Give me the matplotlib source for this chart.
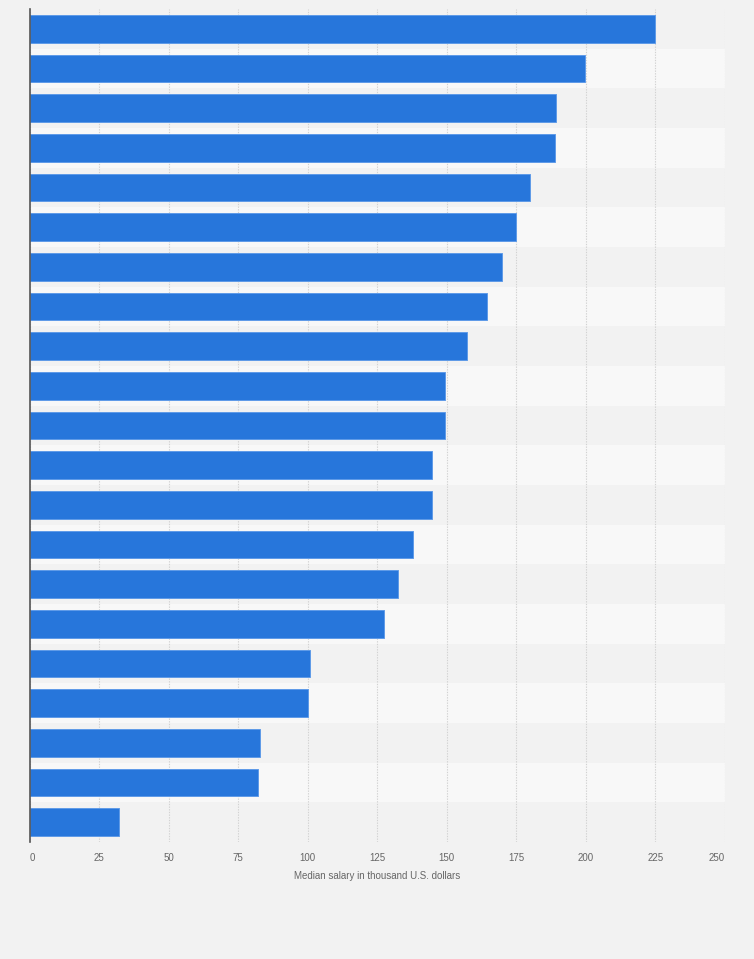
import numpy as np
import matplotlib.pyplot as plt

# median salaries (thousand USD), ranked top to bottom; category names are not shown in the chart
salaries = [225, 199.5, 189.2, 188.8, 179.8, 174.8, 169.7, 164.6, 157.1, 149.5, 149.5,
            144.8, 144.8, 137.7, 132.3, 127.6, 100.7, 100, 82.8, 82.1, 32.2]
ranks = list(range(len(salaries)))
x_ticks = [0, 25, 50, 75, 100, 125, 150, 175, 200, 225, 250]
x_label = 'Median salary in thousand U.S. dollars'

plt.rcParams['font.family'] = ['Liberation Sans', 'DejaVu Sans']

W, H = 754, 959
fig = plt.figure(figsize=(W / 100, H / 100), dpi=100)
fig.patch.set_facecolor('#f2f2f2')
ax = fig.add_axes([29.5 / W, 1 - 842 / H, (725 - 29.5) / W, (842 - 9) / H])
ax.set_facecolor('#f2f2f2')

# alternating row bands
for r in ranks:
    if r % 2 == 1:
        ax.axhspan(r - 0.5, r + 0.5, color='#f8f8f8', zorder=0, lw=0)

ax.barh(ranks, salaries, height=0.7, color='#2776db', edgecolor='#5f9be8',
        linewidth=0.7, zorder=3)

ax.set_xlim(0, 250)
ax.set_ylim(len(salaries) - 0.5, -0.5)
ax.set_xticks(x_ticks, labels=[str(t) for t in x_ticks])
ax.set_yticks([])
ax.grid(axis='x', color='#d2d2d2', linestyle=(0, (1.2, 1.2)), linewidth=0.8, zorder=1)
ax.set_axisbelow(True)

for s in ['top', 'right', 'bottom']:
    ax.spines[s].set_visible(False)
ax.spines['left'].set_color('#555555')
ax.spines['left'].set_linewidth(1.2)
ax.spines['left'].set_zorder(4)

ax.tick_params(axis='x', length=0, pad=8, labelsize=7, labelcolor='#666666')
ax.set_xlabel(x_label, fontsize=7, color='#666666', labelpad=6)

# keep the end labels inside the plot width
labels = ax.get_xticklabels()
labels[0].set_horizontalalignment('left')
labels[-1].set_horizontalalignment('right')

fig.savefig('out.png', dpi=100, facecolor=fig.get_facecolor())
